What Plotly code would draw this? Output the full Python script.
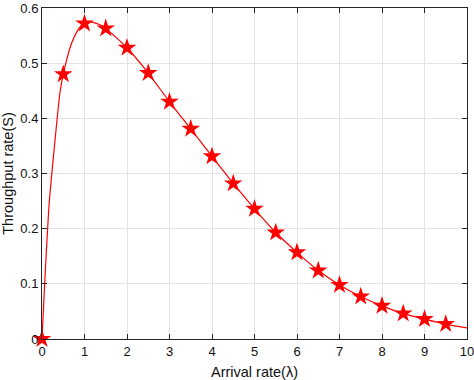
import plotly.graph_objects as go

# Marker points
lam_pts = [0, 0.5, 1, 1.5, 2, 2.5, 3, 3.5, 4, 4.5, 5, 5.5, 6, 6.5, 7, 7.5, 8, 8.5, 9, 9.5]
s_pts = [0.0, 0.480, 0.572, 0.563, 0.528, 0.482, 0.430, 0.381, 0.331, 0.282, 0.236, 0.193,
         0.157, 0.124, 0.098, 0.077, 0.060, 0.046, 0.036, 0.027]

# Curve points (dense near the steep rise and the peak)
lam_curve = [0, 0.05, 0.1, 0.17, 0.3, 0.42, 0.5, 0.6, 0.7, 0.8, 0.9, 1.0, 1.1, 1.2, 1.35, 1.5,
             2, 2.5, 3, 3.5, 4, 4.5, 5, 5.5, 6, 6.5, 7, 7.5, 8, 8.5, 9, 9.5, 10]
s_curve = [0.0, 0.080, 0.155, 0.247, 0.355, 0.445, 0.480, 0.512, 0.537, 0.554, 0.566, 0.572,
           0.575, 0.574, 0.570, 0.563, 0.528, 0.482, 0.430, 0.381, 0.331, 0.282, 0.236, 0.193,
           0.157, 0.124, 0.098, 0.077, 0.060, 0.046, 0.036, 0.027, 0.020]

x_ticks = [0, 1, 2, 3, 4, 5, 6, 7, 8, 9, 10]
y_ticks = [0, 0.1, 0.2, 0.3, 0.4, 0.5, 0.6]
y_tick_text = ["0", "0.1", "0.2", "0.3", "0.4", "0.5", "0.6"]

RED = "#ff0000"
AX = "#262626"
FONT = "Liberation Sans, Arial"

fig = go.Figure()
fig.add_trace(go.Scatter(x=lam_curve, y=s_curve, mode="lines",
                         line=dict(color=RED, width=1.2, shape="spline", smoothing=0.6),
                         hoverinfo="skip", showlegend=False, cliponaxis=True))
fig.add_trace(go.Scatter(x=lam_pts, y=s_pts, mode="markers",
                         marker=dict(symbol="star", size=14, color=RED, line=dict(width=0)),
                         showlegend=False, cliponaxis=False))

axis_common = dict(showline=True, linecolor=AX, linewidth=1, mirror="ticks", ticks="inside",
                   ticklen=5, tickcolor=AX, showgrid=True, gridcolor="#e3e3e3", gridwidth=1,
                   zeroline=False, automargin=False, ticklabeloverflow="allow",
                   tickfont=dict(family=FONT, size=13, color="#111111"))

fig.update_xaxes(range=[0, 10], tickvals=x_ticks,
                 title=dict(text="Arrival rate(λ)", standoff=10,
                            font=dict(family=FONT, size=14.5, color="#111111")), **axis_common)
fig.update_yaxes(range=[0, 0.6], tickvals=y_ticks, ticktext=y_tick_text,
                 title=dict(text="Throughput rate(S)", standoff=9,
                            font=dict(family=FONT, size=14.5, color="#111111")), **axis_common)

fig.update_layout(width=474, height=380, margin=dict(l=42, r=7, t=8, b=41),
                  plot_bgcolor="white", paper_bgcolor="white")

fig.write_html("out.html", config={"displayModeBar": False},
               post_script="document.body.style.margin='0px';")
